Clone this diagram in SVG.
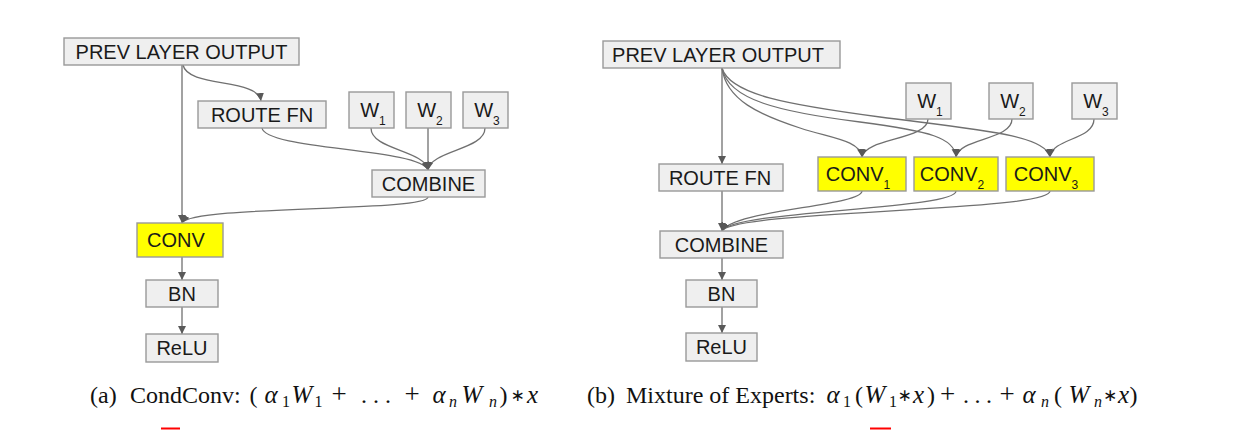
<svg xmlns="http://www.w3.org/2000/svg" width="1251" height="430" viewBox="0 0 1251 430">
<style>
.box{fill:#efefef;stroke:#999;stroke-width:1.4}
.yel{fill:#ffff00;stroke:#999;stroke-width:1.4}
.lbl{font-family:"Liberation Sans",Arial,sans-serif;font-size:20px;fill:#1a1a1a;text-anchor:middle}
.sub{font-size:12px}
.con path{fill:none;stroke:#707070;stroke-width:1.3;marker-end:url(#ah)}
.cap{font-family:"Liberation Serif","Times New Roman",serif;font-size:24px;fill:#111}
.m{text-anchor:middle}
.it{font-style:italic;font-size:25px}
.cs{font-size:16px}
.op{font-size:27px}
.ast{font-family:"DejaVu Sans",sans-serif;font-size:17px}
</style>
<defs>
<marker id="ah" markerUnits="userSpaceOnUse" markerWidth="10" markerHeight="10" refX="8" refY="4" orient="auto">
<path d="M0,0 L8,4 L0,8 Z" fill="#595959"/>
</marker>
</defs>

<g id="connectors" class="con">
<!-- left -->
<path d="M182,65 V223"/>
<path d="M183,65 C188,88 258,78 261,101"/>
<path d="M262,128 C266,150 420,148 428,170"/>
<path d="M371,128 C371,150 425,150 428,170"/>
<path d="M428,128 V170"/>
<path d="M485,128 C485,150 431,150 428,170"/>
<path d="M428,197 C428,212 192,205 182,223"/>
<path d="M182,257 V280"/>
<path d="M182,307 V334"/>
<!-- right -->
<path d="M722,68 V164"/>
<path d="M722,68 C726,100 760,115 800,128 C830,138 860,140 862,157"/>
<path d="M722,68 C728,100 780,112 860,122 C930,131 955,138 956,157"/>
<path d="M722,68 C730,95 790,105 880,117 C980,130 1046,135 1050,157"/>
<path d="M928,119 C928,140 865,138 862,157"/>
<path d="M1012,119 C1012,140 959,138 956,157"/>
<path d="M1094,119 C1094,140 1052,138 1050,157"/>
<path d="M722,191 V231"/>
<path d="M862,191 C862,206 732,210 722,231"/>
<path d="M956,191 C956,210 732,210 722,231"/>
<path d="M1050,191 C1050,212 732,210 722,231"/>
<path d="M722,258 V280"/>
<path d="M722,307 V333"/>
</g>

<!-- left panel -->
<g id="a-prev"><rect class="box" x="64" y="38" width="235" height="27"/><text class="lbl" x="181.5" y="58.5">PREV LAYER OUTPUT</text></g>
<g id="a-route"><rect class="box" x="198" y="101" width="128" height="27"/><text class="lbl" x="262" y="121.5">ROUTE FN</text></g>
<g id="a-w1"><rect class="box" x="349" y="92" width="45" height="36"/><text class="lbl" x="373" y="117">W<tspan class="sub" dy="8">1</tspan></text></g>
<g id="a-w2"><rect class="box" x="406" y="92" width="45" height="36"/><text class="lbl" x="430" y="117">W<tspan class="sub" dy="8">2</tspan></text></g>
<g id="a-w3"><rect class="box" x="463" y="92" width="45" height="36"/><text class="lbl" x="487" y="117">W<tspan class="sub" dy="8">3</tspan></text></g>
<g id="a-combine"><rect class="box" x="372" y="170" width="113" height="27"/><text class="lbl" x="428.5" y="190.5">COMBINE</text></g>
<g id="a-conv"><rect class="yel" x="137" y="223" width="86" height="34"/><text class="lbl" x="176" y="247">CONV</text></g>
<g id="a-bn"><rect class="box" x="146" y="280" width="72" height="27"/><text class="lbl" x="182" y="300.5">BN</text></g>
<g id="a-relu"><rect class="box" x="146" y="334" width="72" height="28"/><text class="lbl" x="182" y="355">ReLU</text></g>

<!-- right panel -->
<g id="b-prev"><rect class="box" x="603" y="41" width="237" height="27"/><text class="lbl" x="718" y="61.5">PREV LAYER OUTPUT</text></g>
<g id="b-w1"><rect class="box" x="906" y="83" width="45" height="36"/><text class="lbl" x="930" y="108">W<tspan class="sub" dy="8">1</tspan></text></g>
<g id="b-w2"><rect class="box" x="989" y="83" width="44" height="36"/><text class="lbl" x="1013" y="108">W<tspan class="sub" dy="8">2</tspan></text></g>
<g id="b-w3"><rect class="box" x="1072" y="83" width="45" height="36"/><text class="lbl" x="1096" y="108">W<tspan class="sub" dy="8">3</tspan></text></g>
<g id="b-route"><rect class="box" x="659" y="164" width="124" height="27"/><text class="lbl" x="720" y="184.5">ROUTE FN</text></g>
<g id="b-conv1"><rect class="yel" x="818" y="157" width="88" height="34"/><text class="lbl" x="858" y="181">CONV<tspan class="sub" dy="8">1</tspan></text></g>
<g id="b-conv2"><rect class="yel" x="914" y="157" width="84" height="34"/><text class="lbl" x="952" y="181">CONV<tspan class="sub" dy="8">2</tspan></text></g>
<g id="b-conv3"><rect class="yel" x="1006" y="157" width="88" height="34"/><text class="lbl" x="1046" y="181">CONV<tspan class="sub" dy="8">3</tspan></text></g>
<g id="b-combine"><rect class="box" x="660" y="231" width="123" height="27"/><text class="lbl" x="721.5" y="251.5">COMBINE</text></g>
<g id="b-bn"><rect class="box" x="686" y="280" width="71" height="27"/><text class="lbl" x="721.5" y="300.5">BN</text></g>
<g id="b-relu"><rect class="box" x="686" y="333" width="71" height="28"/><text class="lbl" x="721.5" y="354">ReLU</text></g>

<!-- captions -->
<text class="cap" y="403"><tspan x="90">(a)</tspan><tspan x="130">CondConv:</tspan></text>
<text class="cap m" y="403"><tspan x="253.5">(</tspan><tspan x="271" class="it">α</tspan><tspan x="286" dy="4" class="cs">1</tspan><tspan x="302" dy="-4" class="it">W</tspan><tspan x="318.5" dy="4" class="cs">1</tspan><tspan x="339" dy="-4" class="op">+</tspan><tspan x="364">.</tspan><tspan x="376">.</tspan><tspan x="388">.</tspan><tspan x="412" class="op">+</tspan><tspan x="439" class="it">α</tspan><tspan x="453" dy="4" class="cs it">n</tspan><tspan x="472" dy="-4" class="it">W</tspan><tspan x="493" dy="4" class="cs it">n</tspan><tspan x="503.5" dy="-4">)</tspan><tspan x="517.5" class="ast" dy="-2">∗</tspan><tspan x="532.5" dy="2" class="it">x</tspan></text>

<text class="cap" y="403"><tspan x="587">(b)</tspan><tspan x="626">Mixture of Experts:</tspan></text>
<text class="cap m" y="403"><tspan x="833" class="it">α</tspan><tspan x="847" dy="4" class="cs">1</tspan><tspan x="859" dy="-4">(</tspan><tspan x="875" class="it">W</tspan><tspan x="893" dy="4" class="cs">1</tspan><tspan x="904.5" dy="-6" class="ast">∗</tspan><tspan x="918.5" dy="2" class="it">x</tspan><tspan x="931">)</tspan><tspan x="947.5" class="op">+</tspan><tspan x="966">.</tspan><tspan x="977.5">.</tspan><tspan x="989">.</tspan><tspan x="1007" class="op">+</tspan><tspan x="1029" class="it">α</tspan><tspan x="1045" dy="4" class="cs it">n</tspan><tspan x="1058" dy="-4">(</tspan><tspan x="1079" class="it">W</tspan><tspan x="1098" dy="4" class="cs it">n</tspan><tspan x="1110" dy="-6" class="ast">∗</tspan><tspan x="1123.5" dy="2" class="it">x</tspan><tspan x="1133.5">)</tspan></text>

<line x1="161" y1="428.5" x2="180" y2="428.5" stroke="#f00" stroke-width="2"/>
<line x1="870" y1="428.5" x2="891" y2="428.5" stroke="#f00" stroke-width="2"/>
</svg>
